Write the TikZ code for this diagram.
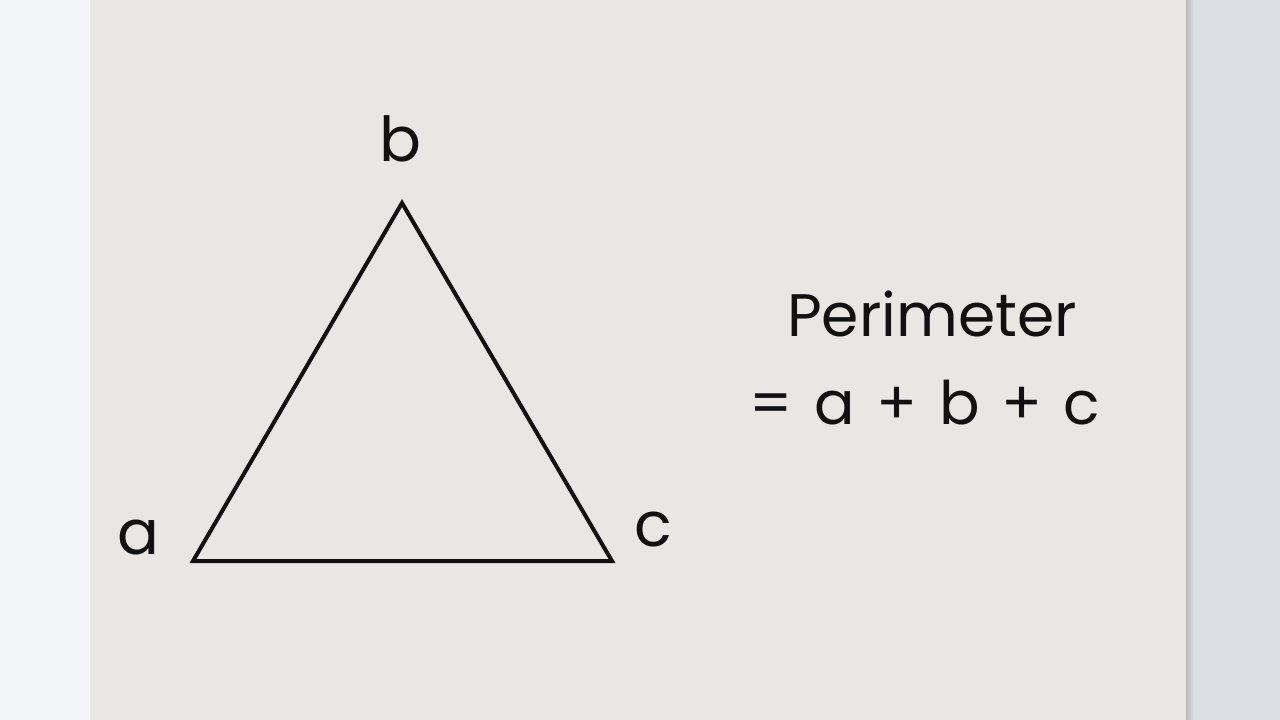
\documentclass[tikz,border=0pt]{standalone}
\usepackage{fontspec}
\setmainfont{Poppins}
\definecolor{panel}{HTML}{E8E7E3}
\definecolor{bgleft}{HTML}{F3F5F8}
\definecolor{bgright}{HTML}{DCE0E5}
\definecolor{edge}{HTML}{B9BDC0}
\definecolor{ink}{HTML}{111111}
\newcommand{\gapsp}{\hspace{21.5pt}}
\tikzset{
  lbl/.style={anchor=base, inner sep=0pt, text=ink, font=\fontsize{62}{70}\selectfont},
  formula/.style={anchor=base, inner sep=0pt, text=ink, font=\fontsize{60}{70}\selectfont},
  tri/.style={draw=ink, line width=4pt, line join=miter}
}
\begin{document}
\begin{tikzpicture}[x=1pt,y=-1pt]
\useasboundingbox (0,0) rectangle (1280,720);
\fill[bgleft] (0,0) rectangle (90,720);
\fill[bgright] (1186,0) rectangle (1280,720);
\fill[left color=edge, right color=bgright] (1186,0) rectangle (1194,720);
\fill[panel] (90,0) rectangle (1186,720);
\coordinate (A) at (193,561);
\coordinate (B) at (402,203);
\coordinate (C) at (612,561);
\draw[tri] (A) -- (B) -- (C) -- cycle;
\node[lbl] (la) at (138,554) {a};
\node[lbl] (lb) at (400,161) {b};
\node[lbl] (lc) at (653,546) {c};
\node[formula] (p1) at (932,336) {Perimeter};
\node[formula] (p2) at (925,424) {=\gapsp a\gapsp +\gapsp b\gapsp +\gapsp c};
\end{tikzpicture}
\end{document}
